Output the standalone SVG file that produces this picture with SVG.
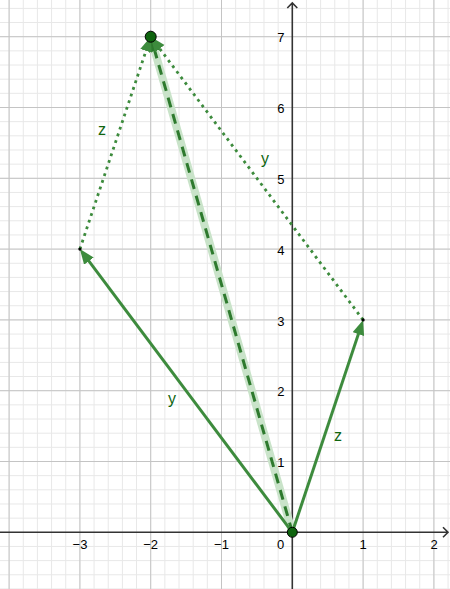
<svg xmlns="http://www.w3.org/2000/svg" width="450" height="589" viewBox="0 0 450 589">
<style>
.minor{stroke:#e8e8e8;stroke-width:1;fill:none}
.major{stroke:#c4c4c4;stroke-width:1;fill:none}
.axis{stroke:#333;stroke-width:1.6;fill:none}
.tick{font-family:"Liberation Sans",Arial,sans-serif;font-size:13px;fill:#000}
.vec{stroke:#3d8b3d;stroke-width:3;fill:none}
.dot{stroke:#3d8b3d;stroke-width:2.8;fill:none;stroke-dasharray:2.8 4.2}
.dash{stroke:#2e7a2e;stroke-width:3;fill:none;stroke-dasharray:10 7}
.hl{stroke:#c9e3c9;stroke-width:8;fill:none}
.lbl{font-family:"Liberation Sans",Arial,sans-serif;font-size:16px;fill:#0f650f}
.bigpt{fill:#0e630e;stroke:#000;stroke-width:1}
.smallpt{fill:#000}
</style>
<defs>
<marker id="ah" markerUnits="userSpaceOnUse" markerWidth="20" markerHeight="14" refX="9" refY="6" orient="auto">
<path d="M0,0 L15,6 L0,12 Z" fill="#3d8b3d"/>
</marker>
<marker id="ahd" markerUnits="userSpaceOnUse" markerWidth="20" markerHeight="14" refX="9" refY="6" orient="auto">
<path d="M0,0 L15,6 L0,12 Z" fill="#2e7a2e"/>
</marker>
</defs>
<rect width="450" height="589" fill="#fff"/>
<g id="grid">
<path class="minor" d="M9.1 0V589M23.26 0V589M37.42 0V589M51.58 0V589M65.74 0V589M79.9 0V589M94.06 0V589M108.22 0V589M122.38 0V589M136.54 0V589M150.7 0V589M164.86 0V589M179.02 0V589M193.18 0V589M207.34 0V589M221.5 0V589M235.66 0V589M249.82 0V589M263.98 0V589M278.14 0V589M306.46 0V589M320.62 0V589M334.78 0V589M348.94 0V589M363.1 0V589M377.26 0V589M391.42 0V589M405.58 0V589M419.74 0V589M433.9 0V589M448.06 0V589M0 8.38H450M0 22.54H450M0 36.7H450M0 50.86H450M0 65.02H450M0 79.18H450M0 93.34H450M0 107.5H450M0 121.66H450M0 135.82H450M0 149.98H450M0 164.14H450M0 178.3H450M0 192.46H450M0 206.62H450M0 220.78H450M0 234.94H450M0 249.1H450M0 263.26H450M0 277.42H450M0 291.58H450M0 305.74H450M0 319.9H450M0 334.06H450M0 348.22H450M0 362.38H450M0 376.54H450M0 390.7H450M0 404.86H450M0 419.02H450M0 433.18H450M0 447.34H450M0 461.5H450M0 475.66H450M0 489.82H450M0 503.98H450M0 518.14H450M0 546.46H450M0 560.62H450M0 574.78H450M0 588.94H450"/>
<path class="major" d="M9.1 0V589M79.9 0V589M150.7 0V589M221.5 0V589M363.1 0V589M433.9 0V589M0 36.7H450M0 107.5H450M0 178.3H450M0 249.1H450M0 319.9H450M0 390.7H450M0 461.5H450"/>
</g>
<g id="axes">
<path class="axis" d="M0 532.3H448M443 527.3L448 532.3L443 537.3"/>
<path class="axis" d="M292.3 589V3M287.3 8L292.3 3L297.3 8"/>
<g class="tick" text-anchor="middle">
<text x="80" y="548.5">−3</text>
<text x="150.7" y="548.5">−2</text>
<text x="221.5" y="548.5">−1</text>
<text x="280.5" y="548.5">0</text>
<text x="363.1" y="548.5">1</text>
<text x="434" y="548.5">2</text>
</g>
<g class="tick" text-anchor="end">
<text x="284.5" y="42.3">7</text>
<text x="284.5" y="113.1">6</text>
<text x="284.5" y="183.9">5</text>
<text x="284.5" y="254.7">4</text>
<text x="284.5" y="325.5">3</text>
<text x="284.5" y="396.3">2</text>
<text x="284.5" y="467.1">1</text>
</g>
</g>
<g id="connectors">
<line class="hl" x1="292.3" y1="532.3" x2="151.5" y2="39.5"/>
<line class="dash" x1="292.3" y1="532.3" x2="152.35" y2="42.47" marker-end="url(#ahd)"/>
<line class="vec" x1="292.3" y1="532.3" x2="83.5" y2="253.9" marker-end="url(#ah)"/>
<line class="vec" x1="292.3" y1="532.3" x2="361.2" y2="325.6" marker-end="url(#ah)"/>
<line class="dot" x1="79.9" y1="249.1" x2="148.8" y2="42.4" marker-end="url(#ah)"/>
<line class="dot" x1="363.1" y1="319.9" x2="154.3" y2="41.5" marker-end="url(#ah)"/>
</g>
<g id="labels" class="lbl">
<text x="98" y="135">z</text>
<text x="261" y="164">y</text>
<text x="168" y="404">y</text>
<text x="334" y="441">z</text>
</g>
<g id="node-A"><circle class="smallpt" cx="79.9" cy="249.1" r="1.6"/></g>
<g id="node-B"><circle class="smallpt" cx="363.1" cy="319.9" r="1.6"/></g>
<g id="node-O"><circle class="bigpt" cx="292.3" cy="532.3" r="5"/></g>
<g id="node-C"><circle class="bigpt" cx="150.7" cy="36.7" r="5.5"/></g>
</svg>
